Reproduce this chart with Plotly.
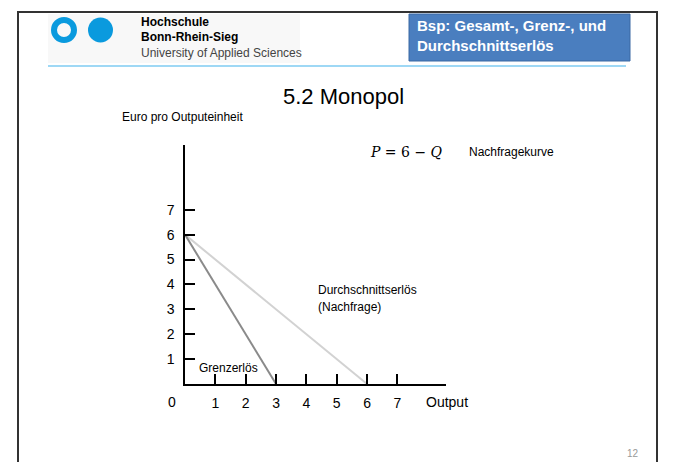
import plotly.graph_objects as go

# Data
output_q = [0, 3, 6]
demand_p = [6, 3, 0]          # P = 6 - Q  (Durchschnittserlös)
mr_q = [0, 3]
mr_p = [6, 0]                 # Grenzerlös
tick_vals = [1, 2, 3, 4, 5, 6, 7]

W, H = 687, 462
OFF = 8  # page body margin


def px(x):
    return (x - OFF) / W


def py(y):
    return 1 - (y - OFF) / H


fig = go.Figure()

fig.add_trace(go.Scatter(
    x=output_q, y=demand_p, mode="lines",
    line=dict(color="#d2d2d2", width=2), showlegend=False,
))
fig.add_trace(go.Scatter(
    x=mr_q, y=mr_p, mode="lines",
    line=dict(color="#8a8a8a", width=2), showlegend=False,
))

font_main = "Liberation Sans, Arial, sans-serif"

fig.update_layout(
    width=W, height=H,
    margin=dict(l=0, r=0, t=0, b=0),
    paper_bgcolor="white", plot_bgcolor="white",
    font=dict(family=font_main, color="black"),
    xaxis=dict(
        domain=[px(185), px(446)], range=[0, 8.6],
        showline=True, linecolor="black", linewidth=1.5,
        showgrid=False, zeroline=False,
        ticks="inside", ticklen=10, tickwidth=1.5, tickcolor="black",
        tickvals=tick_vals, tickfont=dict(size=14), ticklabelstandoff=5,
    ),
    yaxis=dict(
        domain=[py(384), py(145)], range=[0, 9.6],
        showline=True, linecolor="black", linewidth=1.5,
        showgrid=False, zeroline=False,
        ticks="inside", ticklen=10, tickwidth=1.5, tickcolor="black",
        tickvals=tick_vals, tickfont=dict(size=14), ticklabelstandoff=6,
    ),
)

shapes = [
    # slide border
    dict(type="rect", xref="paper", yref="paper",
         x0=px(18), x1=px(657), y0=-0.05, y1=py(12),
         line=dict(color="#333333", width=2)),
    # faint logo background
    dict(type="rect", xref="paper", yref="paper",
         x0=px(48), x1=px(300), y0=py(63), y1=py(14),
         fillcolor="#f8f8f8", line=dict(width=0), layer="below"),
    # logo ring
    dict(type="circle", xref="paper", yref="paper",
         x0=px(54), x1=px(74), y0=py(40), y1=py(20),
         line=dict(color="#0a9ade", width=6)),
    # logo dot
    dict(type="circle", xref="paper", yref="paper",
         x0=px(88), x1=px(113), y0=py(42.5), y1=py(17.5),
         fillcolor="#0a9ade", line=dict(width=0)),
    # header line
    dict(type="line", xref="paper", yref="paper",
         x0=px(48), x1=px(626), y0=py(66), y1=py(66),
         line=dict(color="#9ed8f5", width=2)),
    # blue box
    dict(type="rect", xref="paper", yref="paper",
         x0=px(409), x1=px(630), y0=py(61), y1=py(14),
         fillcolor="#4a7ebf", line=dict(color="#3a68a3", width=1)),
]
fig.update_layout(shapes=shapes)

ann = [
    dict(x=px(139), y=py(22), text="<b>Hochschule</b>", size=12, xanchor="left"),
    dict(x=px(139), y=py(37), text="<b>Bonn-Rhein-Sieg</b>", size=12, xanchor="left"),
    dict(x=px(139), y=py(53), text="University of Applied Sciences", size=12,
         xanchor="left", color="#444444"),
    dict(x=px(415), y=py(25), text="<b>Bsp: Gesamt-, Grenz-, und</b>", size=15,
         xanchor="left", color="white"),
    dict(x=px(415), y=py(46), text="<b>Durchschnittserlös</b>", size=15,
         xanchor="left", color="white"),
    dict(x=px(343), y=py(97), text="5.2 Monopol", size=22, xanchor="center"),
    dict(x=px(120), y=py(117), text="Euro pro Outputeinheit", size=12, xanchor="left"),
    dict(x=px(368), y=py(152), text="<i>P</i> = 6 − <i>Q</i>", size=14, xanchor="left",
         family="DejaVu Serif, serif"),
    dict(x=px(467), y=py(152), text="Nachfragekurve", size=12, xanchor="left"),
    dict(x=px(316), y=py(290), text="Durchschnittserlös", size=12, xanchor="left"),
    dict(x=px(316), y=py(307), text="(Nachfrage)", size=12, xanchor="left"),
    dict(x=px(197), y=py(368), text="Grenzerlös", size=12, xanchor="left"),
    dict(x=px(172), y=py(402), text="0", size=14, xanchor="center"),
    dict(x=px(424), y=py(402), text="Output", size=14, xanchor="left"),
    dict(x=px(633), y=py(453), text="12", size=10, xanchor="center", color="#999999"),
]
for a in ann:
    fig.add_annotation(
        x=a["x"], y=a["y"], xref="paper", yref="paper",
        text=a["text"], showarrow=False,
        xanchor=a["xanchor"], yanchor="middle",
        font=dict(size=a["size"], color=a.get("color", "black"),
                  family=a.get("family", font_main)),
    )

fig.write_html("out.html")
